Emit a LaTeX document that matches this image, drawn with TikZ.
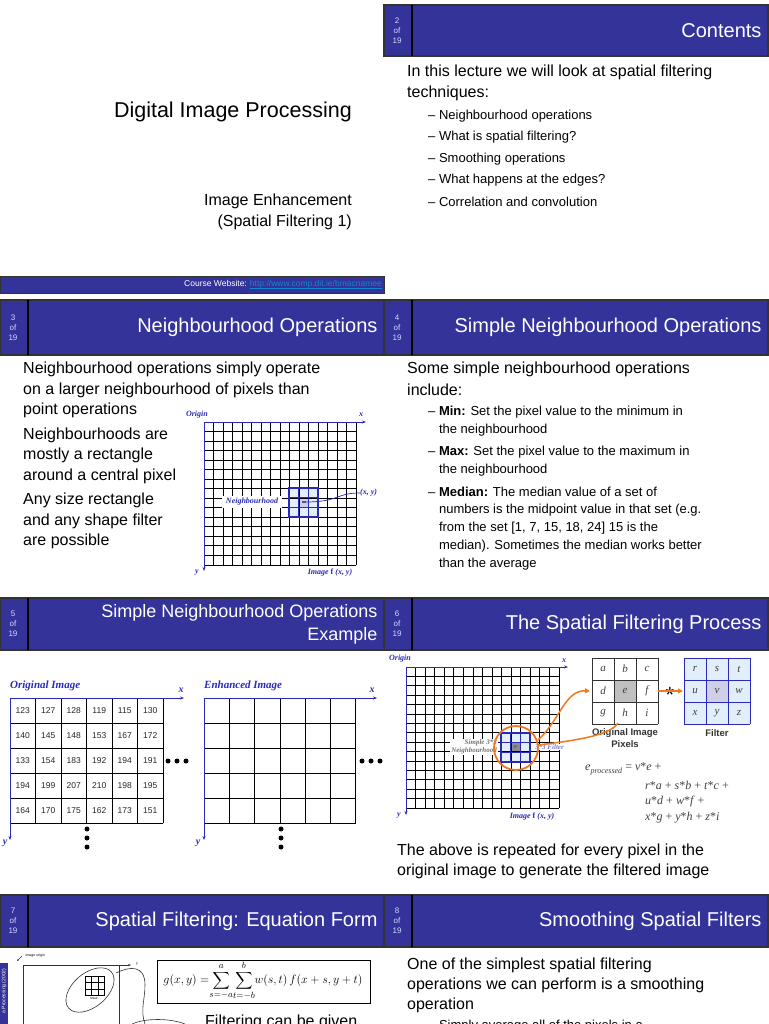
\documentclass[tikz,border=0pt]{standalone}
\usepackage{mathtools}
\usepackage{fontspec}
\setmainfont{Liberation Sans}
\newfontfamily\serif{Liberation Serif}
\usetikzlibrary{arrows.meta,calc}
\definecolor{hdrblue}{HTML}{333399}
\definecolor{lblue}{HTML}{E3EEFB}
\definecolor{dblue}{HTML}{2A2AB8}
\definecolor{orng}{HTML}{F07820}
\definecolor{lav}{HTML}{CFCFE8}
\newcommand\slidehdr[5]{% x0, ytop, ybot, num, title
  \fill[hdrblue] (#1,#2) rectangle (#1+384,#3);
  \draw[black!80,line width=1.2pt] (#1,#2) rectangle (#1+384,#3);
  \draw[black,line width=1.2pt] (#1+28,#2) -- (#1+28,#3);
  \node[font=\fontsize{8}{10}\selectfont,text=white!85!blue,align=center] at (#1+13,{(#2+#3)/2}) {#4\\of\\19};
  \node[font=\fontsize{20}{24}\selectfont,text=white,anchor=east,align=right] at (#1+381,{(#2+#3)/2}) {#5};}
\tikzset{
 body/.style={anchor=west,font=\fontsize{16}{20}\selectfont,inner sep=0pt},
 sub/.style={anchor=west,font=\fontsize{13}{18}\selectfont,inner sep=0pt},
 lbl/.style={font=\serif\bfseries\itshape\fontsize{8}{9}\selectfont,text=dblue,inner sep=0pt},
 ax/.style={dblue,line width=0.8pt,-{Stealth[length=4pt]}},
 gridl/.style={black,line width=0.8pt},
 cellnum/.style={font=\fontsize{8.5}{10}\selectfont,text=black!85},
 dot/.style={circle,fill=black,inner sep=0pt,minimum size=5pt},
 letter/.style={font=\serif\itshape\fontsize{11}{12}\selectfont,text=black!75},
 oarr/.style={orng,line width=1.5pt,-{Triangle[length=5pt,width=5pt]}},
}
\begin{document}
\begin{tikzpicture}[x=1pt,y=-1pt]
\useasboundingbox (0,0) rectangle (768,1024);
\fill[white] (0,0) rectangle (768,1024);
% ===== Slide 1 =====
\node[anchor=east,font=\fontsize{21.5}{24}\selectfont,inner sep=0pt] (t1) at (352,112) {Digital Image Processing};
\node[anchor=east,font=\fontsize{16}{21}\selectfont,align=right,inner sep=0pt] (t1b) at (352,212) {Image Enhancement\\(Spatial Filtering 1)};
\fill[hdrblue] (0,276) rectangle (384,293);
\draw[black!80,line width=1pt] (0,276) rectangle (384,293);
\node[anchor=east,font=\fontsize{8.5}{10}\selectfont,text=white,inner sep=0pt] (web) at (382,284.5) {Course Website: \textcolor{cyan!70!blue}{\underbar{http://www.comp.dit.ie/bmacnamee}}};
% ===== Slide 2 =====
\slidehdr{384}{5}{56}{2}{Contents}
\node[body] (c0) at (407,72) {In this lecture we will look at spatial filtering};
\node[body] (c1) at (407,93) {techniques:};
\foreach \t [count=\i] in {Neighbourhood operations,What is spatial filtering?,Smoothing operations,What happens at the edges?,Correlation and convolution}
  \node[sub] (ci\i) at (428,{95+\i*21.3}) {-- \t};
% ===== Slide 3 =====
\slidehdr{0}{300}{355}{3}{Neighbourhood Operations}
\foreach \t [count=\i] in {Neighbourhood operations simply operate,on a larger neighbourhood of pixels than,point operations}
  \node[body] at (23,{349+\i*20.5}) {\t};
\foreach \t [count=\i] in {Neighbourhoods are,mostly a rectangle,around a central pixel}
  \node[body] at (23,{415+\i*20.3}) {\t};
\foreach \t [count=\i] in {Any size rectangle,and any shape filter,are possible}
  \node[body] at (23,{480+\i*20.5}) {\t};
\fill[lblue] (289,488) rectangle (318,517);
\fill[lav] (299,498) rectangle (308,507);
\foreach \i in {0,...,16} \draw[gridl] ({204+\i*9.5},422) -- ({204+\i*9.5},565);
\foreach \j in {0,...,15} \draw[gridl] (204,{422+\j*9.53}) -- (356,{422+\j*9.53});
\draw[dblue,line width=1.2pt] (289,488) rectangle (318,517);
\draw[dblue,line width=0.6pt] (298.7,488) -- (298.7,517) (308.3,488)--(308.3,517) (289,497.7)--(318,497.7) (289,507.3)--(318,507.3);
\node[fill=white,lbl,inner xsep=4pt,inner ysep=2pt] (nb) at (252,502) {Neighbourhood};
\draw[ax] (204,422) -- (366,422);
\draw[ax] (204,422) -- (204,571);
\node[lbl] (o3) at (197,415) {Origin};
\node[lbl] (x3) at (361,415) {x};
\node[lbl] (y3) at (197,573) {y};
\node[lbl] (i3) at (330,573) {Image \emph{f} (x, y)};
\node[lbl,anchor=west] (xy3) at (360,493) {(x, y)};
\coordinate (c3) at (303,502);
\fill[dblue] (c3) circle (1.2pt);
\draw[dblue,line width=0.7pt,-{Stealth[length=3pt]}] (xy3.west) .. controls (335,493) and (340,502) .. (c3);
% ===== Slide 4 =====
\slidehdr{384}{300}{355}{4}{Simple Neighbourhood Operations}
\node[body] at (407,369) {Some simple neighbourhood operations};
\node[body] at (407,390) {include:};
\foreach \t [count=\i] in {{-- \textbf{Min:} Set the pixel value to the minimum in},{\phantom{-- }the neighbourhood},{-- \textbf{Max:} Set the pixel value to the maximum in},{\phantom{-- }the neighbourhood},{-- \textbf{Median:} The median value of a set of},{\phantom{-- }numbers is the midpoint value in that set (e.g.},{\phantom{-- }from the set [1, 7, 15, 18, 24] 15 is the},{\phantom{-- }median). Sometimes the median works better},{\phantom{-- }than the average}}
  \node[sub] at (428,{\ifnum\i<3 394+\i*18\else\ifnum\i<5 398+\i*18\else 402+\i*18\fi\fi}) {\t};
% ===== Slide 5 =====
\fill[hdrblue] (0,598) rectangle (384,650);
\draw[black!80,line width=1.2pt] (0,598) rectangle (384,650);
\draw[black,line width=1.2pt] (28,598) -- (28,650);
\node[font=\fontsize{8}{10}\selectfont,text=white!85!blue,align=center] at (13,624) {5\\of\\19};
\node[font=\fontsize{18}{23}\selectfont,text=white,anchor=east,align=right] (h5) at (381,624) {Simple Neighbourhood Operations\\Example};
\node[lbl,anchor=west,font=\serif\bfseries\itshape\fontsize{11}{12}\selectfont] (oi) at (10,686) {Original Image};
\node[lbl,anchor=west,font=\serif\bfseries\itshape\fontsize{11}{12}\selectfont] (ei) at (204,686) {Enhanced Image};
\foreach \i in {0,...,6} {\draw[gridl] ({10+\i*25.5},698) -- ({10+\i*25.5},823);
  \draw[gridl] ({204+\i*25.3},698) -- ({204+\i*25.3},823);}
\foreach \j in {0,...,5} {\draw[gridl] (10,{698+\j*25}) -- (163,{698+\j*25});
  \draw[gridl] (204,{698+\j*25}) -- (356,{698+\j*25});}
\foreach \row [count=\j from 0] in {{123,127,128,119,115,130},{140,145,148,153,167,172},{133,154,183,192,194,191},{194,199,207,210,198,195},{164,170,175,162,173,151}}
  \foreach \v [count=\i from 0] in \row
    \node[cellnum] at ({22.75+\i*25.5},{710.5+\j*25}) {\v};
\draw[ax] (10,698) -- (184,698);
\draw[ax] (10,698) -- (10,840);
\draw[ax] (204,698) -- (377,698);
\draw[ax] (204,698) -- (204,840);
\node[lbl,font=\serif\bfseries\itshape\fontsize{10}{12}\selectfont] at (181,690) {x};
\node[lbl,font=\serif\bfseries\itshape\fontsize{10}{12}\selectfont] at (5,843) {y};
\node[lbl,font=\serif\bfseries\itshape\fontsize{10}{12}\selectfont] at (372,690) {x};
\node[lbl,font=\serif\bfseries\itshape\fontsize{10}{12}\selectfont] at (198,843) {y};
\foreach \k in {0,1,2} {
  \node[dot] at ({168+\k*9},761) {};
  \node[dot] at ({362+\k*9},761) {};
  \node[dot] at (87,{829+\k*9}) {};
  \node[dot] at (281,{829+\k*9}) {};}
% ===== Slide 6 =====
\slidehdr{384}{598}{650}{6}{The Spatial Filtering Process}
\fill[lblue] (501,733) rectangle (530,762);
\fill[black!45] (511,743) rectangle (520,752);
\foreach \i in {0,...,16} \draw[gridl] ({406+\i*9.56},667) -- ({406+\i*9.56},808);
\foreach \j in {0,...,15} \draw[gridl] (406,{667+\j*9.4}) -- (559,{667+\j*9.4});
\draw[dblue,line width=1.2pt] (501,733) rectangle (530,762);
\draw[dblue,line width=0.6pt] (510.7,733) -- (510.7,762) (520.3,733)--(520.3,762) (501,742.7)--(530,742.7) (501,752.3)--(530,752.3);
\node[font=\serif\itshape\fontsize{6}{6}\selectfont,text=black!80] at (515.5,747.5) {e};
\node[fill=white,inner sep=1pt,font=\serif\bfseries\itshape\fontsize{7}{8}\selectfont,text=black!55,align=right,anchor=east] (s3) at (498,747) {Simple 3*3\\Neighbourhood};
\node[fill=white,inner sep=1pt,font=\serif\bfseries\itshape\fontsize{7}{8}\selectfont,text=dblue!60,anchor=west] (f3) at (534,747) {3*3 Filter};
\draw[ax] (406,667) -- (568,667);
\draw[ax] (406,667) -- (406,815);
\node[lbl] at (400,659) {Origin};
\node[lbl] at (564,661) {x};
\node[lbl] at (399,816) {y};
\node[lbl] at (532,817) {Image \emph{f} (x, y)};
\draw[orng,line width=1.8pt] (516,748) circle (22);
% original pixel table
\fill[black!25] (614,680) rectangle (636,702);
\foreach \i in {0,...,3} {\draw[black!80,line width=1pt] ({592+\i*22},658) -- ({592+\i*22},724);
  \draw[black!80,line width=1pt] (592,{658+\i*22}) -- (658,{658+\i*22});}
\foreach \l [count=\k from 0] in {a,b,c,d,e,f,g,h,i}
  \node[letter] (p\l) at ({603+mod(\k,3)*22},{669+div(\k,3)*22}) {\l};
\node[font=\bfseries\fontsize{9.5}{12}\selectfont,align=center,text=black!80] (oip) at (625,738) {Original Image\\Pixels};
% filter table
\fill[lblue] (684,658) rectangle (750,724);
\fill[lav] (706,680) rectangle (728,702);
\foreach \i in {0,...,3} {\draw[dblue,line width=1pt] ({684+\i*22},658) -- ({684+\i*22},724);
  \draw[dblue,line width=1pt] (684,{658+\i*22}) -- (750,{658+\i*22});}
\foreach \l [count=\k from 0] in {r,s,t,u,v,w,x,y,z}
  \node[letter] (q\l) at ({695+mod(\k,3)*22},{669+div(\k,3)*22}) {\l};
\node[font=\bfseries\fontsize{9.5}{12}\selectfont,text=black!80] (flt) at (717,733) {Filter};
\node[font=\fontsize{22}{22}\selectfont] (ast) at (670,695) {*};
\draw[oarr] (658,691) -- (683,691);
\draw[oarr] (538,740) .. controls (560,720) and (565,690) .. (590,691);
\draw[orng,line width=1.5pt] (538,745) .. controls (580,740) and (610,735) .. (618,723);
% equation
\node[anchor=west,font=\serif\fontsize{12}{14}\selectfont,text=black!75,inner sep=0pt] (eq0) at (585,769) {\textit{e}\raisebox{-0.5ex}{\fontsize{8}{9}\selectfont\textit{processed}} = \textit{v}*\textit{e} +};
\foreach \t [count=\i] in {{\textit{r}*\textit{a} + \textit{s}*\textit{b} + \textit{t}*\textit{c} +},{\textit{u}*\textit{d} + \textit{w}*\textit{f} +},{\textit{x}*\textit{g} + \textit{y}*\textit{h} + \textit{z}*\textit{i}}}
  \node[anchor=west,font=\serif\fontsize{12}{14}\selectfont,text=black!75,inner sep=0pt] at (645,{769+\i*16.2}) {\t};
\node[body] at (397,851) {The above is repeated for every pixel in the};
\node[body] at (397,871) {original image to generate the filtered image};
% ===== Slide 7 =====
\slidehdr{0}{895}{947}{7}{Spatial Filtering: Equation Form}
\fill[hdrblue] (0,963) rectangle (8,1024);
\node[rotate=90,font=\fontsize{5}{6}\selectfont,text=white,anchor=east] at (4,965) {a Processing (2002)};
\draw[black!80,line width=0.6pt] (23,965) -- (128,965);
\draw[black!80,line width=0.6pt,-{Stealth[length=3pt]}] (118,965) -- (131,965);
\node[font=\fontsize{3.5}{4}\selectfont] at (137,964) {y};
\draw[black!80,line width=0.6pt] (23,965) -- (23,1024);
\draw[black!80,line width=0.6pt] (119,965) -- (119,1024);
\draw[black!80,line width=0.5pt,-{Stealth[length=2pt]}] (22,956) -- (17,961);
\node[font=\fontsize{3.5}{4}\selectfont,anchor=west] at (22,956) {Image origin};
\draw[black!80,line width=0.6pt,rotate around={40:(90,990)}] (90,990) ellipse (28 and 17);
\foreach \i in {0,...,3} {\draw[black,line width=0.5pt] ({85+\i*6.5},976) -- ({85+\i*6.5},995.5);
  \draw[black,line width=0.5pt] (85,{976+\i*6.5}) -- (104.5,{976+\i*6.5});}
\node[font=\fontsize{3}{4}\selectfont] at (94,998.5) {Mask};
\draw[black!80,line width=0.6pt] (116,973) .. controls (130,966) and (145,965) .. (145,985) .. controls (145,1000) and (140,1010) .. (145,1024);
\draw[black!80,line width=0.6pt] (132,1024) .. controls (145,1018) and (170,1018) .. (185,1024);
\draw[black,line width=0.8pt] (157,960) rectangle (370,1003);
\node[font=\serif\fontsize{13}{14}\selectfont,inner sep=0pt] (eq7) at (263,981) {$g(x,y)=\displaystyle\sum_{\mathclap{s=-a}}^{a}\;\sum_{\mathclap{t=-b}}^{b} w(s,t)\,f(x+s,y+t)$};
\node[body] at (205,1022) {Filtering can be given};
% ===== Slide 8 =====
\slidehdr{384}{895}{947}{8}{Smoothing Spatial Filters}
\node[body] at (407,965) {One of the simplest spatial filtering};
\node[body] at (407,985) {operations we can perform is a smoothing};
\node[body] at (407,1005) {operation};
\node[sub] at (428,1026) {-- Simply average all of the pixels in a};
\end{tikzpicture}
\end{document}
